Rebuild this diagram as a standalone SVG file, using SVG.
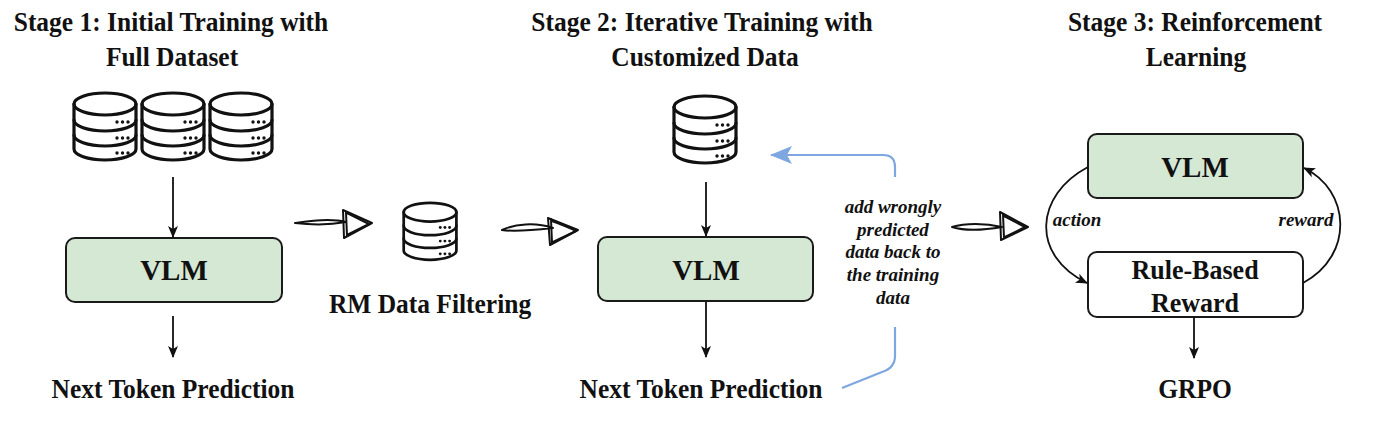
<svg xmlns="http://www.w3.org/2000/svg" width="1376" height="422" viewBox="0 0 1376 422">
<style>
.t{font-family:'Liberation Serif','DejaVu Serif',serif;font-weight:bold;fill:#111;text-anchor:middle}
.h{font-size:28px}
.l{font-size:28px}
.v{font-size:29px}
.i{font-family:'Liberation Serif','DejaVu Serif',serif;font-weight:bold;font-style:italic;fill:#111;text-anchor:middle;font-size:19px}
.box{fill:#d5e8d4;stroke:#1a1a1a;stroke-width:2}
.wbox{fill:#fff;stroke:#1a1a1a;stroke-width:2}
.db{fill:none;stroke:#111;stroke-width:3.2;stroke-linecap:round;stroke-linejoin:round}
.ln{fill:none;stroke:#111;stroke-width:1.8}
.sk{fill:none;stroke:#111;stroke-width:2;stroke-linejoin:round;stroke-linecap:round}
.bl{fill:none;stroke:#7ea6e0;stroke-width:2.2}
</style>
<defs>
<marker id="ar" markerUnits="userSpaceOnUse" markerWidth="12" markerHeight="12" viewBox="0 0 12 12" refX="11" refY="6" orient="auto">
<path d="M0,1 L12,6 L0,11 L3,6 Z" fill="#111"/>
</marker>
<marker id="ab" markerUnits="userSpaceOnUse" markerWidth="22" markerHeight="20" viewBox="0 0 22 20" refX="21" refY="10" orient="auto">
<path d="M0,1 L22,10 L0,19 L5,10 Z" fill="#7ea6e0"/>
</marker>
<g id="dbi">
<ellipse cx="33" cy="12" rx="31" ry="11" class="db"/>
<path class="db" d="M2,12 V57 A31,11 0 0 0 64,57 V12"/>
<path class="db" d="M2,28 A31,11 0 0 0 64,28"/>
<path class="db" d="M2,43 A31,11 0 0 0 64,43"/>
<g fill="#111">
<circle cx="45" cy="30" r="1.7"/><circle cx="50.5" cy="30" r="1.7"/><circle cx="56" cy="30" r="1.7"/>
<circle cx="45" cy="46" r="1.7"/><circle cx="50.5" cy="46" r="1.7"/><circle cx="56" cy="46" r="1.7"/>
<circle cx="45" cy="61" r="1.7"/><circle cx="50.5" cy="61" r="1.7"/><circle cx="56" cy="61" r="1.7"/>
</g>
</g>
</defs>
<rect width="1376" height="422" fill="#fff"/>

<g id="titles">
<text class="t h" transform="translate(171,31) scale(0.91,1)">Stage 1: Initial Training with</text>
<text class="t h" transform="translate(172,66) scale(0.91,1)">Full Dataset</text>
<text class="t h" transform="translate(702,31) scale(0.91,1)">Stage 2: Iterative Training with</text>
<text class="t h" transform="translate(705,66) scale(0.91,1)">Customized Data</text>
<text class="t h" transform="translate(1195,31) scale(0.91,1)">Stage 3: Reinforcement</text>
<text class="t h" transform="translate(1196,66) scale(0.91,1)">Learning</text>
</g>

<g id="stage1-data">
<use href="#dbi" x="72" y="92"/>
<use href="#dbi" x="140" y="92"/>
<use href="#dbi" x="208" y="92"/>
</g>
<g id="stage1-vlm">
<rect class="box" x="66" y="238" width="216" height="64" rx="9"/>
<text class="t v" x="174" y="280">VLM</text>
</g>
<g id="stage1-out">
<text class="t l" transform="translate(173,398) scale(0.91,1)">Next Token Prediction</text>
</g>

<g id="rm-filter">
<use href="#dbi" transform="translate(402,202) scale(0.85)"/>
<text class="t l" transform="translate(430,313) scale(0.91,1)">RM Data Filtering</text>
</g>

<g id="stage2-data">
<use href="#dbi" x="672" y="95"/>
</g>
<g id="stage2-vlm">
<rect class="box" x="598" y="237" width="215" height="64" rx="9"/>
<text class="t v" x="706" y="280">VLM</text>
</g>
<g id="stage2-out">
<text class="t l" transform="translate(701,398) scale(0.91,1)">Next Token Prediction</text>
</g>
<g id="feedback-label">
<text class="i" x="893" y="213">add wrongly</text>
<text class="i" x="893" y="236">predicted</text>
<text class="i" x="893" y="258">data back to</text>
<text class="i" x="893" y="281">the training</text>
<text class="i" x="893" y="304">data</text>
</g>

<g id="stage3-vlm">
<rect class="box" x="1088" y="134" width="215" height="64" rx="9"/>
<text class="t v" x="1195" y="177">VLM</text>
</g>
<g id="stage3-reward">
<rect class="wbox" x="1088" y="252" width="215" height="65" rx="9"/>
<text class="t l" transform="translate(1195,279) scale(0.93,1)">Rule-Based</text>
<text class="t l" transform="translate(1195,312) scale(0.93,1)">Reward</text>
</g>
<g id="stage3-out">
<text class="t l" transform="translate(1195,398) scale(0.91,1)">GRPO</text>
</g>

<g id="connectors">
<path class="ln" d="M173,177 V237" marker-end="url(#ar)"/>
<path class="ln" d="M173,316 V357" marker-end="url(#ar)"/>
<path class="ln" d="M706,182 V236" marker-end="url(#ar)"/>
<path class="ln" d="M706,302 V357" marker-end="url(#ar)"/>
<path class="ln" d="M1194,317 V358" marker-end="url(#ar)"/>
<path class="ln" d="M1088,167 C1035,195 1030,255 1087,283" marker-end="url(#ar)"/>
<path class="ln" d="M1303,283 C1355,255 1350,190 1304,168" marker-end="url(#ar)"/>
<text class="i" x="1077" y="226">action</text>
<text class="i" x="1306" y="226">reward</text>
<path class="bl" d="M895,177 V167 Q895,155 883,155 H771" marker-end="url(#ab)"/>
<path class="bl" d="M895,327 V356 Q895,368 882,372 L842,388"/>
<g class="sk">
<path d="M295,223 C310,221 330,218 346,222 C330,225 312,225 295,223"/>
<path d="M343,210 L372,223 L344,238 Z"/>
<path d="M346,212 L347,236 M347,213 L369,224 L347,235"/>
</g>
<g class="sk">
<path d="M502,230 C515,224 535,222 553,228 C535,230 515,232 502,230"/>
<path d="M548,218 L578,230 L550,245 Z"/>
<path d="M551,219 L552,243 M552,221 C562,225 570,228 576,231 L553,242"/>
</g>
<g class="sk">
<path d="M952,227 C965,223 985,223 1002,227 C985,230 965,231 952,227"/>
<path d="M1000,212 L1028,227 L1001,240 Z"/>
<path d="M1003,214 L1004,238 M1004,216 L1025,227 L1005,237"/>
</g>
</g>
</svg>
